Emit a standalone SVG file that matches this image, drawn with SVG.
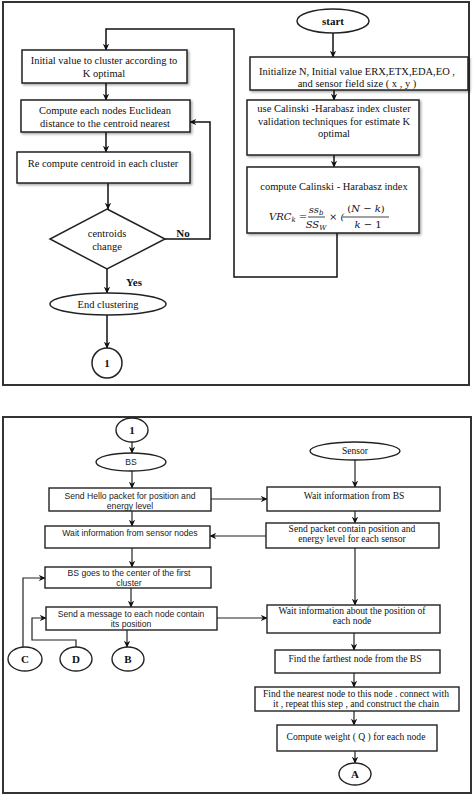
<svg xmlns="http://www.w3.org/2000/svg" width="474" height="795" viewBox="0 0 474 795">
<defs>
<marker id="ah" viewBox="0 0 10 10" refX="9" refY="5" markerWidth="7" markerHeight="7" markerUnits="userSpaceOnUse" orient="auto">
<path d="M0,0.5 L10,5 L0,9.5 L3,5 Z" fill="#111"/>
</marker>
<filter id="sh" x="-10%" y="-10%" width="130%" height="140%">
<feDropShadow dx="1.5" dy="1.5" stdDeviation="1" flood-color="#000" flood-opacity="0.35"/>
</filter>
</defs>
<style>
.panel{fill:#fff;stroke:#333;stroke-width:2}
.box{fill:#fff;stroke:#222;stroke-width:1.4}
.tbox{fill:#fff;stroke:#222;stroke-width:1.5;filter:url(#sh)}
.c{fill:none;stroke:#111;stroke-width:1.5}
.ca{fill:none;stroke:#111;stroke-width:1.5;marker-end:url(#ah)}
.cb{fill:none;stroke:#222;stroke-width:1.2;marker-end:url(#ah)}
.cbn{fill:none;stroke:#222;stroke-width:1.2}
.s{font-family:"Liberation Serif","Times New Roman",serif;font-size:10.5px;fill:#111;text-anchor:middle}
.sb{font-family:"Liberation Serif","Times New Roman",serif;font-size:11px;font-weight:bold;fill:#111;text-anchor:middle}
.ss{font-family:"Liberation Sans",Arial,sans-serif;font-size:8.6px;fill:#222;text-anchor:middle}
.rs{font-family:"Liberation Serif","Times New Roman",serif;font-size:9.6px;fill:#111;text-anchor:middle}
.m{font-family:"DejaVu Serif","Liberation Serif",serif;font-size:10px;fill:#111;font-style:italic}
</style>

<rect class="panel" x="3" y="2" width="466" height="383"/>
<rect class="panel" x="3" y="417" width="468" height="376"/>

<g id="connectors">
<path class="ca" d="M333,33 V57"/>
<path class="ca" d="M334,90 V100"/>
<path class="ca" d="M334,155 V167"/>
<path class="ca" d="M337,233 V277 H234 V29 H106 V50"/>
<path class="ca" d="M106,83 V100"/>
<path class="ca" d="M106,132 V152"/>
<path class="ca" d="M108,183 V209"/>
<path class="ca" d="M165,239 H210 V122 H190"/>
<path class="ca" d="M107,269 V293"/>
<path class="ca" d="M107,315 V348"/>

<path class="cb" d="M132,442 V453"/>
<path class="cb" d="M132,471 V488"/>
<path class="cb" d="M132,511 V526"/>
<path class="cb" d="M132,548 V567"/>
<path class="cb" d="M131,588 V607"/>
<path class="cb" d="M127,630 V647"/>
<path class="cb" d="M23,647 V578 H45"/>
<path class="cb" d="M76,647 V640 H32 V618 H46"/>
<path class="cb" d="M211,499 H267"/>
<path class="cb" d="M266,536 H210"/>
<path class="cb" d="M217,618 H267"/>
<path class="cb" d="M355,460 V487"/>
<path class="cb" d="M355,511 V523"/>
<path class="cb" d="M355,548 V605"/>
<path class="cb" d="M354,633 V650"/>
<path class="cb" d="M354,673 V687"/>
<path class="cb" d="M354,711 V725"/>
<path class="cb" d="M355,751 V763"/>
</g>

<g id="start">
<ellipse cx="333" cy="21" rx="36" ry="12" fill="#fff" stroke="#222" stroke-width="1.5"/>
<text class="sb" x="333" y="25">start</text>
</g>
<g id="initialize">
<rect class="tbox" x="250" y="57" width="218" height="33"/>
<text class="s" x="357" y="75">Initialize N, Initial value ERX,ETX,EDA,EO ,</text>
<text class="s" x="357" y="87">and sensor field size ( x , y )</text>
</g>
<g id="use-calinski">
<rect class="tbox" x="247" y="100" width="172" height="55"/>
<text class="s" x="334" y="112">use Calinski -Harabasz index  cluster</text>
<text class="s" x="334" y="125">validation techniques for estimate K</text>
<text class="s" x="334" y="137">optimal</text>
</g>
<g id="compute-calinski">
<rect class="tbox" x="247" y="167" width="172" height="66"/>
<text class="s" x="334" y="190">compute Calinski - Harabasz index</text>
<text class="m" x="269" y="220">VRC<tspan font-size="7" dy="2">k</tspan><tspan dy="-2" font-style="normal"> =</tspan></text>
<text class="m" x="316" y="213" text-anchor="middle">ss<tspan font-size="7" dy="2">b</tspan></text>
<line x1="308" y1="217" x2="325" y2="217" stroke="#111" stroke-width="0.8"/>
<text class="m" x="316" y="228" text-anchor="middle">SS<tspan font-size="7" dy="2">W</tspan></text>
<text class="m" x="329" y="220" font-style="normal">× (</text>
<text class="m" x="366" y="212" text-anchor="middle"><tspan font-style="normal">(</tspan>N − k<tspan font-style="normal">)</tspan></text>
<line x1="343" y1="217" x2="389" y2="217" stroke="#111" stroke-width="0.8"/>
<text class="m" x="368" y="228" text-anchor="middle">k <tspan font-style="normal">− 1</tspan></text>
</g>

<g id="initial-value">
<rect class="tbox" x="22" y="50" width="165" height="33"/>
<text class="s" x="104" y="64">Initial value to cluster according to</text>
<text class="s" x="104" y="77">K optimal</text>
</g>
<g id="compute-distance">
<rect class="tbox" x="21" y="100" width="169" height="32"/>
<text class="s" x="105" y="114">Compute each nodes Euclidean</text>
<text class="s" x="105" y="127">distance to the centroid nearest</text>
</g>
<g id="recompute">
<rect class="tbox" x="17" y="152" width="173" height="31"/>
<text class="s" x="103" y="167">Re compute centroid in each cluster</text>
</g>
<g id="centroids-change">
<polygon points="107,209 165,239 107,269 50,239" fill="#fff" stroke="#222" stroke-width="1.5"/>
<text class="s" x="107" y="237">centroids</text>
<text class="s" x="107" y="250">change</text>
</g>
<text class="sb" x="183" y="237">No</text>
<text class="sb" x="134" y="286">Yes</text>
<g id="end-clustering">
<ellipse cx="108" cy="304" rx="58" ry="11" fill="#fff" stroke="#222" stroke-width="1.5"/>
<text class="s" x="108" y="308">End clustering</text>
</g>
<g id="conn-1-top">
<circle cx="107" cy="363" r="15" fill="#fff" stroke="#222" stroke-width="1.5"/>
<text class="sb" x="107" y="367">1</text>
</g>

<g id="conn-1-bottom">
<ellipse cx="132" cy="430" rx="16" ry="12" fill="#fff" stroke="#222" stroke-width="1.4"/>
<text class="sb" x="132" y="434" font-size="9">1</text>
</g>
<g id="bs">
<ellipse cx="131" cy="462" rx="35" ry="9" fill="#fff" stroke="#222" stroke-width="1.4"/>
<text class="ss" x="131" y="465" font-size="8">BS</text>
</g>
<g id="send-hello">
<rect class="box" x="49" y="488" width="162" height="23"/>
<text class="ss" x="130" y="499">Send Hello packet for position and</text>
<text class="ss" x="130" y="509">energy level</text>
</g>
<g id="wait-sensor-nodes">
<rect class="box" x="45" y="526" width="165" height="22"/>
<text class="ss" x="130" y="536">Wait information from sensor nodes</text>
</g>
<g id="bs-goes">
<rect class="box" x="45" y="567" width="166" height="21"/>
<text class="ss" x="129" y="576">BS goes to the center of the first</text>
<text class="ss" x="129" y="586">cluster</text>
</g>
<g id="send-message">
<rect class="box" x="46" y="607" width="171" height="23"/>
<text class="ss" x="131" y="617">Send a message to each node contain</text>
<text class="ss" x="131" y="627">its position</text>
</g>
<g id="conn-c">
<ellipse cx="25" cy="659" rx="17" ry="12" fill="#fff" stroke="#222" stroke-width="1.4"/>
<text class="sb" x="25" y="663" font-size="9">C</text>
</g>
<g id="conn-d">
<ellipse cx="76" cy="659" rx="16" ry="12" fill="#fff" stroke="#222" stroke-width="1.4"/>
<text class="sb" x="76" y="663" font-size="9">D</text>
</g>
<g id="conn-b">
<ellipse cx="128" cy="659" rx="16" ry="12" fill="#fff" stroke="#222" stroke-width="1.4"/>
<text class="sb" x="128" y="663" font-size="9">B</text>
</g>

<g id="sensor">
<ellipse cx="355" cy="451" rx="45" ry="9" fill="#fff" stroke="#222" stroke-width="1.4"/>
<text class="rs" x="355" y="454">Sensor</text>
</g>
<g id="wait-bs">
<rect class="box" x="267" y="487" width="173" height="24"/>
<text class="rs" x="354" y="499">Wait information from BS</text>
</g>
<g id="send-packet">
<rect class="box" x="266" y="523" width="173" height="25"/>
<text class="rs" x="352" y="532">Send packet contain position and</text>
<text class="rs" x="352" y="542">energy level for each sensor</text>
</g>
<g id="wait-position">
<rect class="box" x="267" y="605" width="173" height="28"/>
<text class="rs" x="352" y="614">Wait information about the position of</text>
<text class="rs" x="352" y="624">each node</text>
</g>
<g id="find-farthest">
<rect class="box" x="275" y="650" width="165" height="23"/>
<text class="rs" x="355" y="662">Find the farthest node from the BS</text>
</g>
<g id="find-nearest">
<rect class="box" x="255" y="687" width="204" height="24"/>
<text class="rs" x="356" y="697">Find the nearest node to this node . connect with</text>
<text class="rs" x="356" y="707">it , repeat this step , and construct the chain</text>
</g>
<g id="compute-weight">
<rect class="box" x="277" y="725" width="160" height="26"/>
<text class="rs" x="356" y="740">Compute weight ( Q ) for each node</text>
</g>
<g id="conn-a">
<ellipse cx="355" cy="774" rx="16" ry="11" fill="#fff" stroke="#222" stroke-width="1.4"/>
<text class="sb" x="355" y="778" font-size="9">A</text>
</g>
</svg>
